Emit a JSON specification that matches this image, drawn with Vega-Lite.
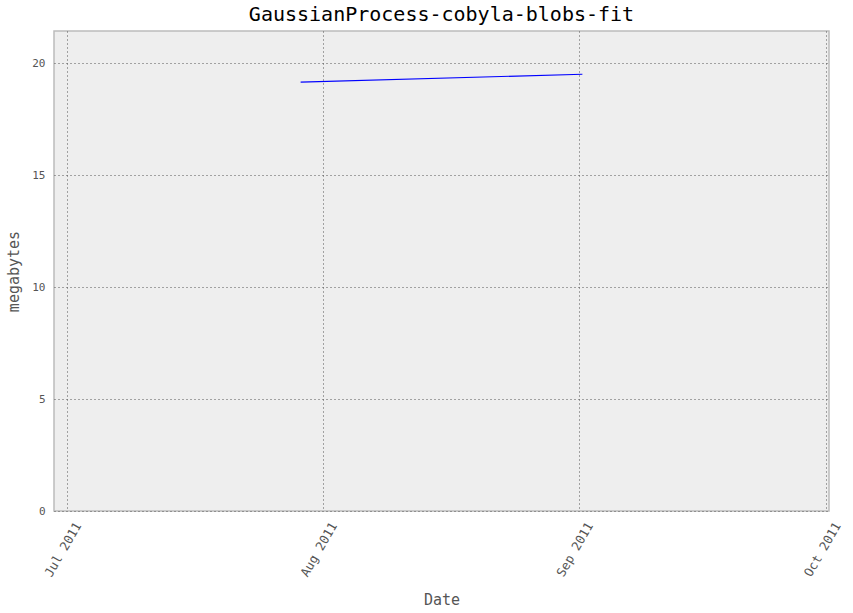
{
  "$schema": "https://vega.github.io/schema/vega-lite/v6.json",
  "width": 775,
  "height": 480,
  "autosize": {"type": "none"},
  "padding": {"left": 54, "top": 31, "right": 24, "bottom": 102},
  "background": "white",
  "title": {
    "text": "GaussianProcess-cobyla-blobs-fit",
    "font": "DejaVu Sans Mono",
    "fontSize": 20,
    "fontWeight": "normal",
    "color": "black",
    "offset": 6
  },
  "config": {
    "view": {"fill": "#eeeeee", "stroke": "#bcbcbc", "strokeWidth": 1.5},
    "axis": {
      "labelFont": "DejaVu Sans Mono",
      "titleFont": "DejaVu Sans Mono",
      "labelColor": "#555555",
      "titleColor": "#555555",
      "titleFontWeight": "normal",
      "labelFontSize": 11,
      "titleFontSize": 15,
      "domain": false,
      "ticks": false,
      "grid": true,
      "gridColor": "#555555",
      "gridDash": [1, 3],
      "gridWidth": 1
    }
  },
  "data": {
    "values": [
      {"date": "2011-07-29T08:00:00Z", "megabytes": 19.15},
      {"date": "2011-09-01T11:00:00Z", "megabytes": 19.5}
    ]
  },
  "mark": {"type": "line", "color": "#0000ff", "strokeWidth": 1.2, "clip": true},
  "encoding": {
    "x": {
      "field": "date",
      "type": "temporal",
      "title": "Date",
      "scale": {
        "type": "utc",
        "domain": [
          {"year": 2011, "month": 6, "date": 29, "hours": 11, "utc": true},
          {"year": 2011, "month": 10, "date": 1, "hours": 8, "utc": true}
        ]
      },
      "axis": {
        "format": "%b %Y",
        "values": [
          {"year": 2011, "month": 7, "date": 1, "utc": true},
          {"year": 2011, "month": 8, "date": 1, "utc": true},
          {"year": 2011, "month": 9, "date": 1, "utc": true},
          {"year": 2011, "month": 10, "date": 1, "utc": true}
        ],
        "labelAngle": -60,
        "labelAlign": "right",
        "labelBaseline": "middle",
        "labelPadding": 12,
        "labelOffset": 11,
        "labelFontSize": 12.5,
        "labelFlush": false,
        "labelOverlap": false,
        "titlePadding": 14
      }
    },
    "y": {
      "field": "megabytes",
      "type": "quantitative",
      "title": "megabytes",
      "scale": {"domain": [0, 21.43], "nice": false, "zero": true},
      "axis": {
        "values": [0, 5, 10, 15, 20],
        "labelPadding": 9,
        "titlePadding": 10
      }
    }
  }
}
